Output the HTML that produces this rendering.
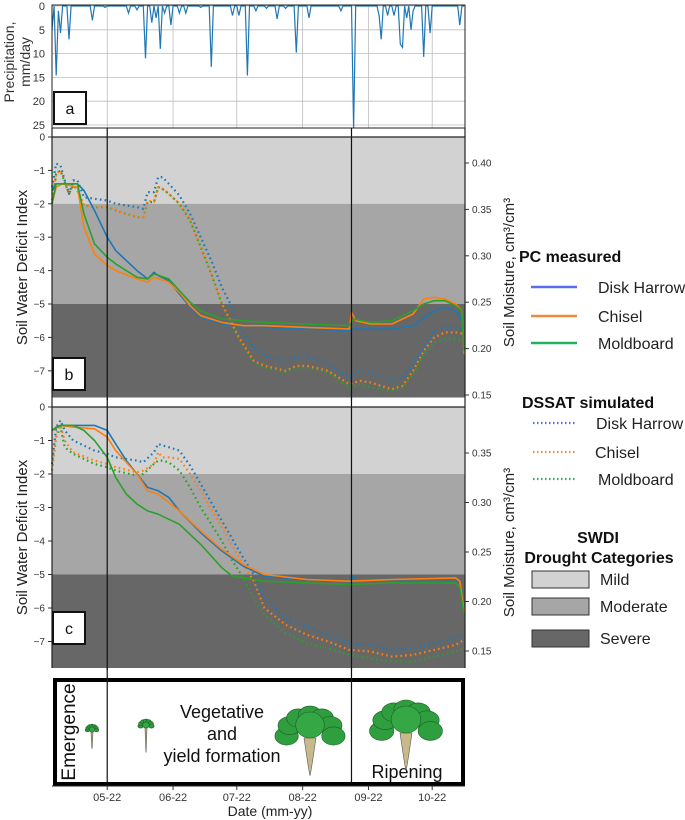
<!DOCTYPE html>
<html><head><meta charset="utf-8">
<style>
html,body{margin:0;padding:0;background:#fff;}
svg{display:block;font-family:"Liberation Sans",sans-serif;}
</style></head>
<body>
<svg id="fig" width="685" height="820" viewBox="0 0 685 820" xmlns="http://www.w3.org/2000/svg">
<g id="panelA"></g>
<g id="panelB"></g>
<g id="panelC"></g>
<g id="legend"></g>
<g id="stages"></g>
</svg>
<script>
// ---------- data ----------
const monthTickDays = [26, 57, 87, 118, 149, 179];
const monthTickLabels = ["05-22","06-22","07-22","08-22","09-22","10-22"];
const stageLineDays = [26, 141];
const precipTicks = [0,5,10,15,20,25];
const precipDays = [0,2,3,4,8,19,25,36,40,44,47,49,51,53,56,60,63,70,75,85,88,92,96,101,106,110,115,121,136,142,154,155,158,161,164,165,167,169,170,175,178,192];
const precipValues = [5,14.6,1,5.7,7,3,0.3,1.5,0.8,11,3.5,2.5,9,1.5,4,1.5,1.5,0.3,12.8,2,2,14.6,1,0.5,2.7,0.5,9.8,2.5,1,25.7,2,7,2,2,8,8.7,2.5,5,1,10.7,5.7,4];
const swdiTicks = [0,-1,-2,-3,-4,-5,-6,-7];
const smTicksB = [0.40,0.35,0.30,0.25,0.20,0.15];
const smTicksC = [0.35,0.30,0.25,0.20,0.15];

// Panel b
const bDiskDays = [0,2,12,15,20,26,30,40,45,48,50,55,60,65,70,80,90,100,120,140,142,160,170,180,185,190,193,194];
const bDiskVals = [-1.6,-1.4,-1.4,-1.6,-2.2,-3.0,-3.4,-4.0,-4.25,-4.05,-4.15,-4.3,-4.7,-5.1,-5.4,-5.6,-5.65,-5.7,-5.75,-5.8,-5.75,-5.75,-5.65,-5.2,-5.1,-5.2,-5.5,-6.3];
const bChiselDays = [0,2,5,12,15,20,26,30,40,45,48,55,60,65,70,80,90,100,120,140,141,143,150,160,170,175,180,185,190,193,194];
const bChiselVals = [-2.0,-1.5,-1.4,-1.5,-2.7,-3.5,-3.85,-4.0,-4.25,-4.35,-4.2,-4.35,-4.65,-5.05,-5.35,-5.55,-5.65,-5.65,-5.7,-5.75,-5.25,-5.5,-5.6,-5.6,-5.3,-4.85,-4.8,-4.85,-5.0,-5.2,-6.5];
const bMoldDays = [0,2,12,15,20,26,30,40,45,48,55,60,65,70,80,90,100,120,140,142,150,160,170,175,180,185,190,193,194];
const bMoldVals = [-2.0,-1.4,-1.4,-2.3,-3.2,-3.6,-3.8,-4.2,-4.25,-4.1,-4.25,-4.6,-4.95,-5.2,-5.45,-5.5,-5.55,-5.6,-5.65,-5.45,-5.55,-5.5,-5.2,-5.0,-4.9,-4.9,-5.05,-5.2,-6.4];
const bSimDays = [0,2,4,6,8,10,12,15,20,26,30,40,43,45,48,50,52,55,60,65,70,75,80,84,88,95,100,110,115,120,130,140,145,150,160,165,170,175,180,185,190,194];
const bSimDiskVals = [-1.5,-0.8,-0.85,-1.3,-1.7,-1.3,-1.3,-1.8,-1.85,-1.9,-2.0,-2.1,-2.15,-1.65,-1.65,-1.2,-1.2,-1.4,-1.75,-2.3,-3.0,-3.7,-4.5,-5.0,-5.7,-6.3,-6.55,-6.7,-6.6,-6.55,-6.8,-7.2,-7.0,-7.05,-7.3,-7.2,-6.8,-6.3,-5.8,-5.7,-5.7,-5.8];
const bSimChiselVals = [-1.9,-1.1,-1.0,-1.3,-1.7,-1.4,-1.6,-2.05,-2.1,-2.1,-2.2,-2.4,-2.4,-1.9,-1.95,-1.5,-1.55,-1.7,-2.0,-2.5,-3.3,-4.1,-5.0,-5.5,-6.0,-6.7,-6.85,-7.0,-6.85,-6.85,-7.0,-7.4,-7.3,-7.35,-7.55,-7.45,-7.0,-6.4,-6.0,-5.85,-5.85,-5.9];
const bSimMoldVals = [-2.0,-1.1,-1.0,-1.35,-1.7,-1.45,-1.6,-2.05,-2.1,-2.1,-2.2,-2.4,-2.4,-1.95,-1.95,-1.5,-1.55,-1.7,-2.0,-2.5,-3.3,-4.1,-5.0,-5.5,-6.05,-6.75,-6.9,-7.05,-6.9,-6.9,-7.05,-7.5,-7.4,-7.5,-7.6,-7.5,-7.1,-6.5,-6.15,-6.05,-6.05,-6.1];

// Panel c
const cDiskDays = [0,2,4,10,20,26,30,35,40,45,50,55,60,70,80,90,100,110,120,140,142,143,160,190,192,194];
const cDiskVals = [-0.7,-0.6,-0.55,-0.55,-0.55,-0.7,-1.1,-1.6,-2.0,-2.4,-2.5,-2.7,-3.1,-3.75,-4.3,-4.75,-5.05,-5.1,-5.15,-5.2,-5.05,-5.2,-5.15,-5.15,-5.2,-6.0];
const cChiselDays = [0,4,10,20,26,30,40,45,50,60,70,80,90,100,120,140,160,190,192,194];
const cChiselVals = [-0.7,-0.55,-0.6,-0.65,-0.9,-1.3,-2.0,-2.5,-2.6,-3.1,-3.7,-4.25,-4.7,-5.0,-5.15,-5.2,-5.15,-5.1,-5.2,-6.1];
const cMoldDays = [0,4,10,15,20,26,30,35,40,45,50,60,70,80,85,100,120,140,160,190,192,194];
const cMoldVals = [-0.7,-0.55,-0.55,-0.7,-1.0,-1.5,-2.1,-2.6,-2.9,-3.1,-3.2,-3.5,-4.1,-4.8,-5.05,-5.2,-5.25,-5.3,-5.25,-5.25,-5.4,-6.2];
const cSimDays = [0,2,4,6,10,20,26,30,40,43,48,50,52,55,60,65,70,80,85,90,95,100,110,120,130,140,150,160,170,180,190,194];
const cSimDiskVals = [-1.7,-0.6,-0.4,-0.7,-1.0,-1.3,-1.4,-1.5,-1.6,-1.65,-1.35,-1.1,-1.15,-1.2,-1.3,-1.75,-2.3,-3.4,-3.95,-4.5,-5.0,-5.7,-6.3,-6.55,-6.8,-7.05,-7.1,-7.25,-7.2,-7.05,-6.9,-6.8];
const cSimChiselVals = [-1.9,-0.8,-0.55,-1.0,-1.35,-1.6,-1.7,-1.8,-1.95,-1.9,-1.7,-1.35,-1.5,-1.5,-1.55,-2.0,-2.5,-3.6,-4.15,-4.7,-5.2,-6.0,-6.5,-6.8,-7.0,-7.25,-7.3,-7.45,-7.4,-7.25,-7.1,-6.95];
const cSimMoldVals = [-1.9,-0.9,-0.6,-1.2,-1.4,-1.7,-1.8,-1.9,-2.05,-2.0,-1.7,-1.6,-1.6,-1.65,-1.9,-2.4,-3.0,-4.0,-4.6,-5.1,-5.7,-6.2,-6.75,-7.05,-7.2,-7.4,-7.5,-7.6,-7.6,-7.45,-7.3,-7.2];

// ---------- helpers ----------
const NS = "http://www.w3.org/2000/svg";
const X0 = 52, X1 = 465, PXD = 2.124;
function xs(d){ return X0 + d * PXD; }
function yA(v){ return 6 + v * 4.76; }
function yB(v){ return 137 - v * 33.4; }
function yC(v){ return 407 - v * 33.5; }
function smB(m){ return 163 + (0.40 - m) / 0.05 * 46.4; }
function smC(m){ return 453 + (0.35 - m) / 0.05 * 49.5; }
function mk(parent, tag, attrs, text){
  const el = document.createElementNS(NS, tag);
  for (const k in attrs) el.setAttribute(k, attrs[k]);
  if (text !== undefined) el.textContent = text;
  parent.appendChild(el);
  return el;
}
const C_BLUE = "#1f77b4", C_ORANGE = "#ff7f0e", C_GREEN = "#2ca02c";

// ---------- panel a ----------
const pa = document.getElementById("panelA");
precipTicks.forEach(function(t){
  const gl = mk(pa, "line", {x1:X0, x2:X1, y1:yA(t), y2:yA(t), stroke:"#bdbdbd", "stroke-width":0.8});
  
  
  const tl = mk(pa, "text", {x:45, y:yA(t)+4, "text-anchor":"end", "font-size":11, fill:"#333"}, String(t));
  
  
});
monthTickDays.forEach(function(d){
  const gl = mk(pa, "line", {x1:xs(d), x2:xs(d), y1:5, y2:128, stroke:"#bdbdbd", "stroke-width":0.8});
  
  
});
const daily = [];
for (let d = 0; d <= 194; d++) daily.push(0);
precipDays.forEach(function(d, i){ daily[d] = precipValues[i]; });
const ppts = daily.map(function(v, d){ return xs(d).toFixed(1) + "," + yA(v).toFixed(1); }).join(" ");
const pl = mk(pa, "polyline", {points:ppts, fill:"none", stroke:C_BLUE, "stroke-width":1.2});


const pf = mk(pa, "rect", {x:X0, y:5, width:X1-X0, height:123, fill:"none", stroke:"#222", "stroke-width":1});


const pt1 = mk(pa, "text", {transform:"translate(14,62) rotate(-90)", "text-anchor":"middle", "font-size":14, fill:"#333"}, "Precipitation,");


const pt2 = mk(pa, "text", {transform:"translate(30,62) rotate(-90)", "text-anchor":"middle", "font-size":14, fill:"#333"}, "mm/day");


const ab = mk(pa, "rect", {x:54, y:92, width:32, height:32, fill:"#fff", stroke:"#111", "stroke-width":2});


const at = mk(pa, "text", {x:70, y:114, "text-anchor":"middle", "font-size":16, fill:"#111"}, "a");



// ---------- SWDI panels ----------
function drawPanel(g, yf, smf, smTicks, top, bottom, frameTop, label, series, tag){
  const bands = [[0,-2,"#d2d2d2","mild"],[-2,-5,"#a6a6a6","moderate"],[-5,-7.8,"#676767","severe"]];
  bands.forEach(function(b){
    const yTop = yf(b[0]), yBot = Math.min(yf(b[1]), bottom);
    const r = mk(g, "rect", {x:X0, y:yTop, width:X1-X0, height:yBot-yTop, fill:b[2]});
    
    
  });
  swdiTicks.forEach(function(t){
    const tk = mk(g, "line", {x1:X0-4, x2:X0, y1:yf(t), y2:yf(t), stroke:"#333"});
    
    
    const tl = mk(g, "text", {x:X0-7, y:yf(t)+3.5, "text-anchor":"end", "font-size":10, fill:"#333"}, t === 0 ? "0" : "\u2212" + Math.abs(t));
    
    
  });
  smTicks.forEach(function(m){
    const tk = mk(g, "line", {x1:X1, x2:X1+4, y1:smf(m), y2:smf(m), stroke:"#333"});
    
    
    const tl = mk(g, "text", {x:X1+7, y:smf(m)+3.5, "font-size":10, fill:"#333"}, m.toFixed(2));
    
    
  });
  series.forEach(function(s){
    const pts = s.days.map(function(d, i){ return xs(d).toFixed(1) + "," + yf(s.vals[i]).toFixed(1); }).join(" ");
    const attrs = {points:pts, fill:"none", stroke:s.color, "stroke-width":s.dotted ? 2.2 : 1.6, "stroke-linejoin":"round"};
    if (s.dotted) { attrs["stroke-dasharray"] = "1.6 3.2"; }
    const ln = mk(g, "polyline", attrs);
    
    
  });
  stageLineDays.forEach(function(d){
    const vl = mk(g, "line", {x1:xs(d), x2:xs(d), y1:frameTop, y2:bottom+2, stroke:"#111", "stroke-width":1.2});
    
    
  });
  const l1 = mk(g, "line", {x1:X0, x2:X0, y1:frameTop, y2:bottom, stroke:"#222", "stroke-width":1.2});
  
  
  const l2 = mk(g, "line", {x1:X1, x2:X1, y1:frameTop, y2:bottom, stroke:"#222", "stroke-width":1.2});
  
  
  const l3 = mk(g, "line", {x1:X0, x2:X1, y1:top, y2:top, stroke:"#222", "stroke-width":1.2});
  
  
  const cy = (top + bottom) / 2;
  const yt = mk(g, "text", {transform:"translate(27," + cy + ") rotate(-90)", "text-anchor":"middle", "font-size":15, fill:"#222"}, "Soil Water Deficit Index");
  
  
  const rt = mk(g, "text", {transform:"translate(514," + (cy + 5) + ") rotate(-90)", "text-anchor":"middle", "font-size":15, fill:"#222"}, "Soil Moisture, cm\u00b3/cm\u00b3");
  
  
  const lb = mk(g, "rect", {x:53, y:label.y, width:32, height:32, fill:"#fff", stroke:"#111", "stroke-width":2});
  
  
  const lt = mk(g, "text", {x:69, y:label.y + 22, "text-anchor":"middle", "font-size":16, fill:"#111"}, label.text);
  
  
}
drawPanel(document.getElementById("panelB"), yB, smB, smTicksB, 137, 398, 128, {y:358, text:"b"}, [
  {days:bSimDays, vals:bSimMoldVals, color:C_GREEN, dotted:true, name:"b-dssat-moldboard-line"},
  {days:bSimDays, vals:bSimChiselVals, color:C_ORANGE, dotted:true, name:"b-dssat-chisel-line"},
  {days:bSimDays, vals:bSimDiskVals, color:C_BLUE, dotted:true, name:"b-dssat-disk-harrow-line"},
  {days:bDiskDays, vals:bDiskVals, color:C_BLUE, dotted:false, name:"b-pc-disk-harrow-line"},
  {days:bChiselDays, vals:bChiselVals, color:C_ORANGE, dotted:false, name:"b-pc-chisel-line"},
  {days:bMoldDays, vals:bMoldVals, color:C_GREEN, dotted:false, name:"b-pc-moldboard-line"}
], "b");
drawPanel(document.getElementById("panelC"), yC, smC, smTicksC, 407, 668, 398, {y:612, text:"c"}, [
  {days:cSimDays, vals:cSimMoldVals, color:C_GREEN, dotted:true, name:"c-dssat-moldboard-line"},
  {days:cSimDays, vals:cSimChiselVals, color:C_ORANGE, dotted:true, name:"c-dssat-chisel-line"},
  {days:cSimDays, vals:cSimDiskVals, color:C_BLUE, dotted:true, name:"c-dssat-disk-harrow-line"},
  {days:cDiskDays, vals:cDiskVals, color:C_BLUE, dotted:false, name:"c-pc-disk-harrow-line"},
  {days:cChiselDays, vals:cChiselVals, color:C_ORANGE, dotted:false, name:"c-pc-chisel-line"},
  {days:cMoldDays, vals:cMoldVals, color:C_GREEN, dotted:false, name:"c-pc-moldboard-line"}
], "c");
</script>

<script>
// ---------- legend ----------
(function(){
  const lg = document.getElementById("legend");
  const NS = "http://www.w3.org/2000/svg";
  function mk(tag, attrs, text){
    const el = document.createElementNS(NS, tag);
    for (const k in attrs) el.setAttribute(k, attrs[k]);
    if (text !== undefined) el.textContent = text;
    lg.appendChild(el);
    return el;
  }
  const h1 = mk("text", {x:519, y:262, "font-size":16, "font-weight":"bold", fill:"#111"}, "PC measured");
  
  
  const pcItems = [["Disk Harrow","#5b6cf0",287],["Chisel","#f08a3a",316],["Moldboard","#21b35a",343]];
  pcItems.forEach(function(it){
    const l = mk("line", {x1:531, x2:577, y1:it[2], y2:it[2], stroke:it[1], "stroke-width":2.5});
    
    
    const t = mk("text", {x:598, y:it[2]+6, "font-size":16, fill:"#222"}, it[0]);
    
    
  });
  const h2 = mk("text", {x:522, y:408, "font-size":16, "font-weight":"bold", fill:"#111"}, "DSSAT simulated");
  
  
  const simItems = [["Disk Harrow","#5b6cf0",423,596],["Chisel","#f08a3a",452,595],["Moldboard","#21b35a",479,598]];
  simItems.forEach(function(it){
    const l = mk("line", {x1:533, x2:577, y1:it[2], y2:it[2], stroke:it[1], "stroke-width":2.2, "stroke-dasharray":"1.5 2.5"});
    
    
    const t = mk("text", {x:it[3], y:it[2]+6, "font-size":16, fill:"#222"}, it[0]);
    
    
  });
  const h3 = mk("text", {x:598, y:543, "text-anchor":"middle", "font-size":16, "font-weight":"bold", fill:"#111"}, "SWDI");
  
  
  const h4 = mk("text", {x:599, y:563, "text-anchor":"middle", "font-size":16, "font-weight":"bold", fill:"#111"}, "Drought Categories");
  
  
  const cats = [["Mild","#d2d2d2",571],["Moderate","#a6a6a6",598],["Severe","#676767",630]];
  cats.forEach(function(c){
    const r = mk("rect", {x:532, y:c[2], width:57, height:17, fill:c[1], stroke:"#333", "stroke-width":1});
    
    
    const t = mk("text", {x:600, y:c[2]+14, "font-size":16, fill:"#222"}, c[0]);
    
    
  });
})();

// ---------- growth stage panel ----------
(function(){
  const g = document.getElementById("stages");
  const NS = "http://www.w3.org/2000/svg";
  function mk(tag, attrs, text, parent){
    const el = document.createElementNS(NS, tag);
    for (const k in attrs) el.setAttribute(k, attrs[k]);
    if (text !== undefined && text !== null) el.textContent = text;
    (parent || g).appendChild(el);
    return el;
  }
  const xs = function(d){ return 52 + d * 2.124; };
  const box = mk("rect", {x:55, y:680, width:408, height:104, fill:"#fff", stroke:"#000", "stroke-width":4});
  
  
  stageLineDays.forEach(function(d){
    const l = mk("line", {x1:xs(d), x2:xs(d), y1:668, y2:782, stroke:"#111", "stroke-width":1.2});
    
    
  });
  const ax = mk("line", {x1:52, x2:465, y1:786, y2:786, stroke:"#222", "stroke-width":1});
  
  
  monthTickDays.forEach(function(d, i){
    const tk = mk("line", {x1:xs(d), x2:xs(d), y1:786, y2:790, stroke:"#333"});
    
    
    const tl = mk("text", {x:xs(d), y:801, "text-anchor":"middle", "font-size":11, fill:"#333"}, monthTickLabels[i]);
    
    
  });
  const xt = mk("text", {x:270, y:816, "text-anchor":"middle", "font-size":14, fill:"#222"}, "Date (mm-yy)");
  
  
  const em = mk("text", {transform:"translate(75,732) rotate(-90)", "text-anchor":"middle", "font-size":19, fill:"#111"}, "Emergence");
  
  
  const vt = mk("text", {x:222, y:718, "text-anchor":"middle", "font-size":18, fill:"#111"}, null);
  
  
  mk("tspan", {x:222, dy:0}, "Vegetative", vt);
  mk("tspan", {x:222, dy:22}, "and", vt);
  mk("tspan", {x:222, dy:22}, "yield formation", vt);
  const rp = mk("text", {x:407, y:778, "text-anchor":"middle", "font-size":18, fill:"#111"}, "Ripening");
  
  

  function plant(name, cx, topY, rootTop, rootBot, leafR, rootW){
    const p = mk("g", {});
    
    
    mk("path", {d:"M" + (cx - rootW) + "," + rootTop + " Q" + cx + "," + (rootBot + 4) + " " + cx + "," + rootBot + " Q" + cx + "," + (rootBot + 4) + " " + (cx + rootW) + "," + rootTop + " Z", fill:"#c8b98a", stroke:"#555", "stroke-width":0.6}, null, p);
    const n = 7;
    for (let i = 0; i < n; i++) {
      const a = -Math.PI + (i / (n - 1)) * Math.PI;
      const lx = cx + Math.cos(a) * leafR * 0.9;
      const ly = rootTop - 2 + Math.sin(a) * leafR * 0.8;
      mk("ellipse", {cx:lx.toFixed(1), cy:ly.toFixed(1), rx:(leafR * 0.45).toFixed(1), ry:(leafR * 0.35).toFixed(1), fill:"#2e9e3e", stroke:"#1d5e25", "stroke-width":0.6}, null, p);
    }
    mk("ellipse", {cx:cx, cy:rootTop - leafR * 0.5, rx:leafR * 0.55, ry:leafR * 0.5, fill:"#35a845", stroke:"#1d5e25", "stroke-width":0.6}, null, p);
  }
  plant("seedling-emergence", 92, 729, 732, 748, 5, 1);
  plant("seedling-vegetative", 146, 722, 728, 752, 6, 1);
  plant("beet-plant-vegetative", 310, 705, 738, 775, 26, 6);
  plant("beet-plant-ripening", 406, 692, 733, 770, 27, 6);
})();
</script>
</body></html>
